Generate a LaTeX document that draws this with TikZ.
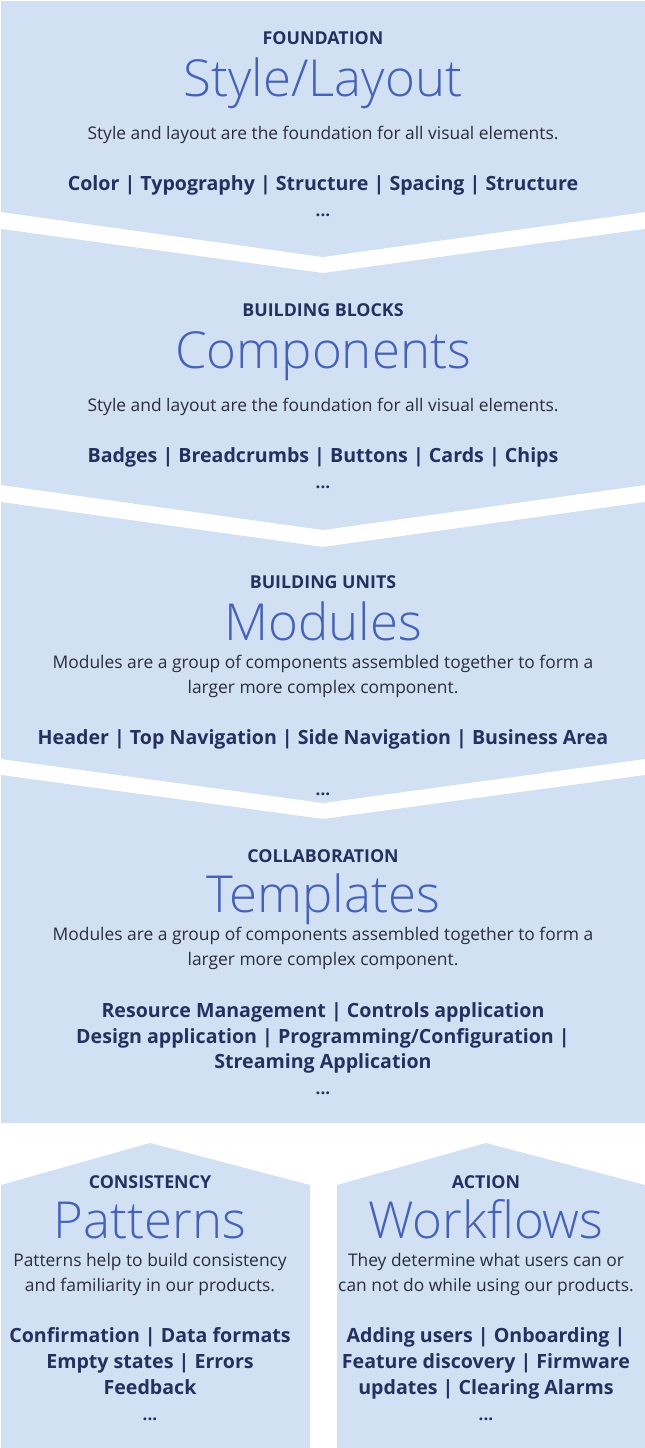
\documentclass[tikz,border=0pt]{standalone}
\usepackage{fontspec}
\setmainfont{Open Sans}
\newfontfamily\lightfont{Open Sans Light}
\definecolor{panel}{HTML}{D1E0F3}
\definecolor{titleblue}{HTML}{4562B8}
\definecolor{navy}{HTML}{26305E}
\definecolor{bodytext}{HTML}{2A2D3E}
\begin{document}
\begin{tikzpicture}[x=1pt,y=-1pt,
  panelshape/.style={fill=panel,draw=none},
  txt/.style={anchor=center,inner sep=0pt,text height=7.6pt,text depth=2.4pt},
  kicker/.style={txt,font=\fontsize{17.8}{21}\selectfont\bfseries,text=navy},
  bigtitle/.style={txt,font=\lightfont\fontsize{51}{57}\selectfont,text=titleblue},
  desc/.style={txt,font=\fontsize{17.4}{25}\selectfont,text=bodytext},
  items/.style={txt,font=\fontsize{19.6}{26}\selectfont\bfseries,text=navy},
  dots/.style={anchor=center,inner sep=0pt,font=\fontsize{17}{19}\selectfont\bfseries,text=navy}]
\useasboundingbox (0,0) rectangle (645,1448);
% panels
\fill[panelshape] (1,1) -- (645,1) -- (645,212) -- (323,257) -- (1,212) -- cycle;
\fill[panelshape] (1,229) -- (323,273) -- (645,229) -- (645,485) -- (323,530) -- (1,485) -- cycle;
\fill[panelshape] (1,502) -- (323,547) -- (645,502) -- (645,759) -- (323,803) -- (1,759) -- cycle;
\fill[panelshape] (1,775) -- (323,819) -- (645,775) -- (645,1123) -- (1,1123) -- cycle;
\fill[panelshape] (1,1185) -- (150,1143) -- (310,1185) -- (310,1448) -- (1,1448) -- cycle;
\fill[panelshape] (337,1185) -- (486,1143) -- (645,1185) -- (645,1448) -- (337,1448) -- cycle;
% section 1
\node[kicker] (k1) at (323,41.5) {FOUNDATION};
\node[bigtitle] (t1) at (323,93.5) {Style/Layout};
\node[desc] (d1) at (323,137) {Style and layout are the foundation for all visual elements.};
\node[items] (i1) at (323,188) {Color | Typography | Structure | Spacing | Structure};
\node[dots] (e1) at (323,215) {...};
% section 2
\node[kicker] (k2) at (323,313.5) {BUILDING BLOCKS};
\node[bigtitle] (t2) at (323,365.5) {Components};
\node[desc] (d2) at (323,409) {Style and layout are the foundation for all visual elements.};
\node[items] (i2) at (323,460) {Badges | Breadcrumbs | Buttons | Cards | Chips};
\node[dots] (e2) at (323,487) {...};
% section 3
\node[kicker] (k3) at (323,585.5) {BUILDING UNITS};
\node[bigtitle] (t3) at (323,637.5) {Modules};
\node[desc] (d3a) at (323,666) {Modules are a group of components assembled together to form a};
\node[desc] (d3b) at (323,691) {larger more complex component.};
\node[items] (i3) at (323,742) {Header | Top Navigation | Side Navigation | Business Area};
\node[dots] (e3) at (323,794) {...};
% section 4
\node[kicker] (k4) at (323,859.5) {COLLABORATION};
\node[bigtitle] (t4) at (323,909.5) {Templates};
\node[desc] (d4a) at (323,938) {Modules are a group of components assembled together to form a};
\node[desc] (d4b) at (323,963) {larger more complex component.};
\node[items] (i4a) at (323,1015) {Resource Management | Controls application};
\node[items] (i4b) at (323,1040.5) {Design application | Programming/Configuration |};
\node[items] (i4c) at (323,1066) {Streaming Application};
\node[dots] (e4) at (323,1093) {...};
% patterns
\node[kicker] (k5) at (150,1185.5) {CONSISTENCY};
\node[bigtitle] (t5) at (150,1235.5) {Patterns};
\node[desc] (d5a) at (150,1264) {Patterns help to build consistency};
\node[desc] (d5b) at (150,1289) {and familiarity in our products.};
\node[items] (i5a) at (150,1340) {Confirmation | Data formats};
\node[items] (i5b) at (150,1366) {Empty states | Errors};
\node[items] (i5c) at (150,1392) {Feedback};
\node[dots] (e5) at (150,1419) {...};
% workflows
\node[kicker] (k6) at (486,1185.5) {ACTION};
\node[bigtitle] (t6) at (486,1235.5) {Workflows};
\node[desc] (d6a) at (486,1264) {They determine what users can or};
\node[desc] (d6b) at (486,1289) {can not do while using our products.};
\node[items] (i6a) at (486,1340) {Adding users | Onboarding |};
\node[items] (i6b) at (486,1366) {Feature discovery | Firmware};
\node[items] (i6c) at (486,1392) {updates | Clearing Alarms};
\node[dots] (e6) at (486,1419) {...};
\end{tikzpicture}
\end{document}
